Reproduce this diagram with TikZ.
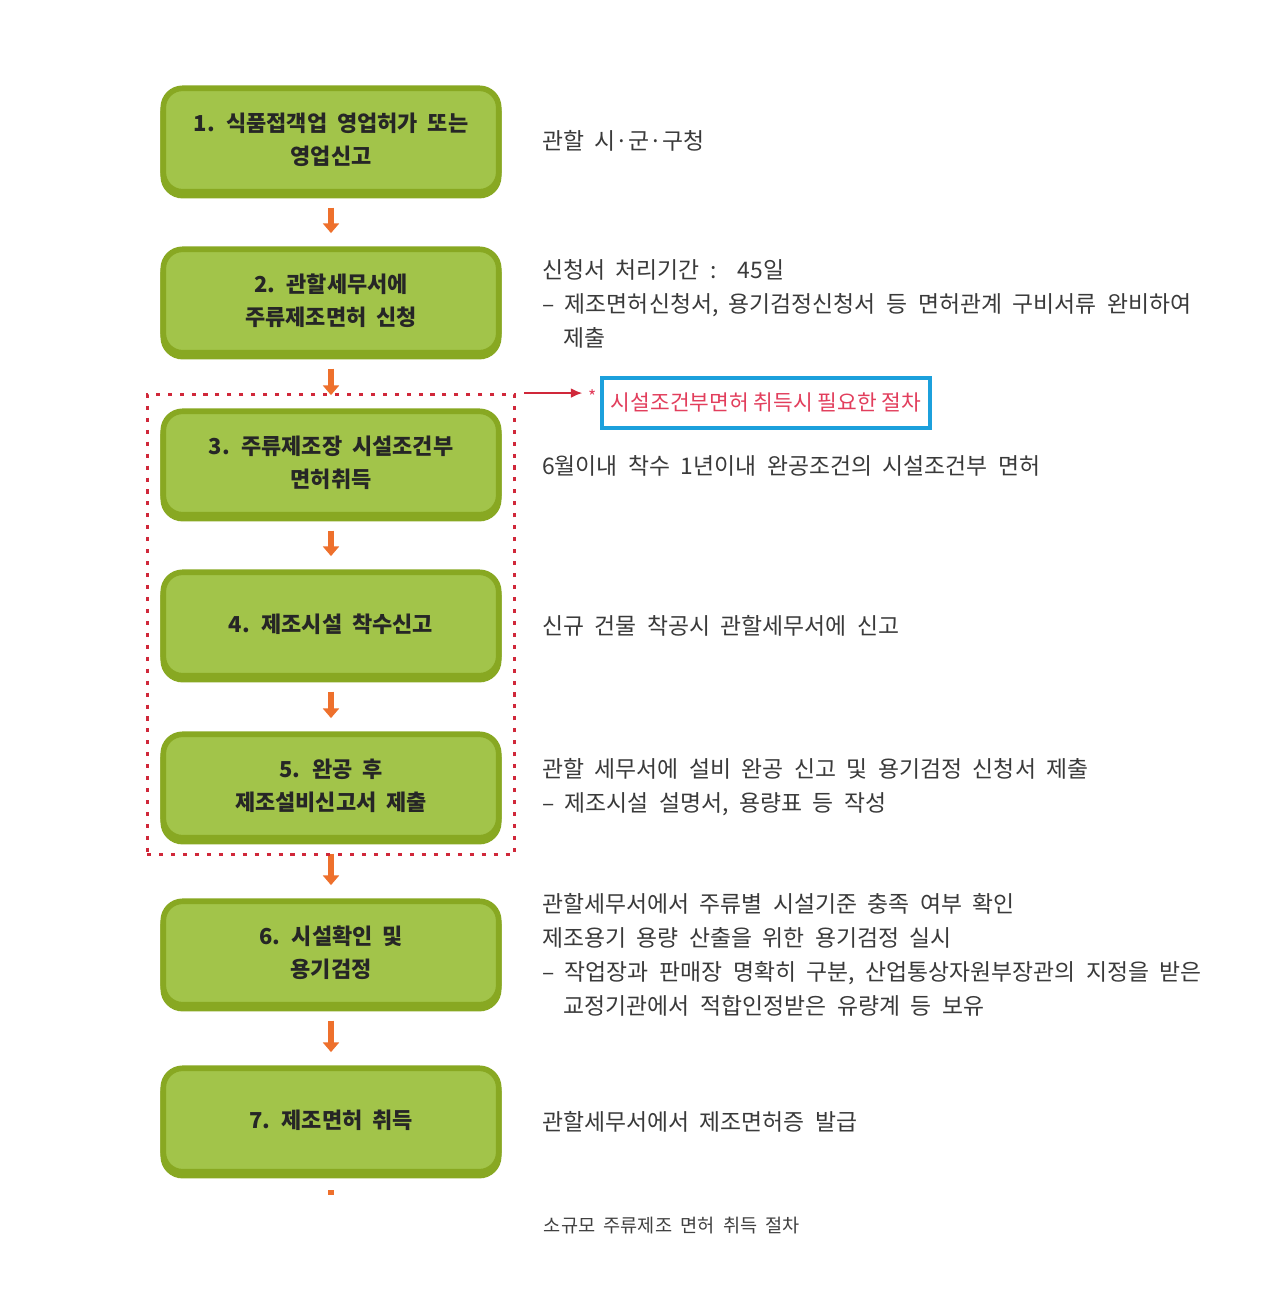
\documentclass[tikz,border=0pt]{standalone}
\usepackage{fontspec}
\setmainfont{Noto Sans CJK KR}
\usetikzlibrary{arrows.meta,fit}

\definecolor{boxfill}{RGB}{162,196,74}
\definecolor{boxedge}{RGB}{136,168,34}
\definecolor{flowor}{RGB}{238,112,44}
\definecolor{dotred}{RGB}{208,40,58}
\definecolor{noteblue}{RGB}{28,160,220}
\definecolor{notered}{RGB}{226,62,92}
\definecolor{txtgray}{RGB}{58,58,58}

\begin{document}
\begin{tikzpicture}[x=0.02cm,y=-0.02cm,
    flow/.style={draw=flowor,line width=3pt,-{Triangle[width=9pt,length=5.5pt]},
      shorten <=7.4pt,shorten >=7.6pt},
    redarrow/.style={draw=dotred,line width=1.1pt,-{Latex[width=5.5pt,length=6.5pt]},
      shorten <=4.5pt,shorten >=2.5pt}]

        \fill[white] (0,0) rectangle (1280,1303);
        \useasboundingbox (0,0) rectangle (1280,1303);

        \begin{scope}[every node/.style={rectangle,rounded corners=11pt,draw=boxedge,fill=boxfill,
            line width=3.2pt,minimum width=6.71cm,minimum height=2.07cm,align=center,
            preaction={draw=boxedge,line width=3.2pt,transform canvas={yshift=-2.2pt}},
            text=black!85,font={\bfseries\fontsize{12.5}{18.7}\selectfont\spaceskip=0.45em\relax}}]
          \node (1) at (331,140)  {1. 식품접객업 영업허가 또는\\영업신고};
          \node (2) at (331,301)  {2. 관할세무서에\\주류제조면허 신청};
          \node (3) at (331,463)  {3. 주류제조장 시설조건부\\면허취득};
          \node (4) at (331,624)  {4. 제조시설 착수신고};
          \node (5) at (331,786)  {5. 완공 후\\제조설비신고서 제출};
          \node (6) at (331,953)  {6. 시설확인 및\\용기검정};
          \node (7) at (331,1120) {7. 제조면허 취득};
        \end{scope}

        \coordinate (end) at (331,1195);

        \path (1) edge[flow] (2);
        \path (2) edge[flow] (3);
        \path (3) edge[flow] (4);
        \path (4) edge[flow] (5);
        \path (5) edge[flow] (6);
        \path (6) edge[flow] (7);
        \path (7) edge[flow,-,shorten <=9pt,shorten >=0pt] (end);

        \node[fit=(3)(5),draw=dotred,line width=1.7pt,dash pattern=on 2.3pt off 4.5pt,
          inner xsep=7.6pt,inner ysep=7.9pt] (grp) {};

        \begin{scope}[every node/.style={anchor=west,align=left,text=txtgray,
            font={\fontsize{13}{19.3}\selectfont\spaceskip=0.46em\relax}}]
          \node (t1) at (536,141)  {관할 시·군·구청};
          \node (t2) at (536,304)  {신청서 처리기간 :\ \ 45일\\– 제조면허신청서, 용기검정신청서 등 면허관계 구비서류 완비하여\\\hspace{0.95em}제출};
          \node (t3) at (536,466)  {6월이내 착수 1년이내 완공조건의 시설조건부 면허};
          \node (t4) at (536,626)  {신규 건물 착공시 관할세무서에 신고};
          \node (t5) at (536,787)  {관할 세무서에 설비 완공 신고 및 용기검정 신청서 제출\\– 제조시설 설명서, 용량표 등 작성};
          \node (t6) at (536,955)  {관할세무서에서 주류별 시설기준 충족 여부 확인\\제조용기 용량 산출을 위한 용기검정 실시\\– 작업장과 판매장 명확히 구분, 산업통상자원부장관의 지정을 받은\\\hspace{0.95em}교정기관에서 적합인정받은 유량계 등 보유};
          \node (t7) at (536,1122) {관할세무서에서 제조면허증 발급};
        \end{scope}

        \node[text=notered,font=\fontsize{10}{10}\selectfont,inner sep=1pt] (star) at (593,396) {*};
        \node[draw=noteblue,line width=2.3pt,minimum width=6.56cm,minimum height=1.0cm,
          text=notered,font=\fontsize{12.2}{14}\selectfont] (note) at (766,403) {시설조건부면허 취득시 필요한 절차};

        \draw[redarrow] (grp.north east) -- (grp.north east -| star.west);

        \node[text=black!75,font={\fontsize{10.6}{12}\selectfont\spaceskip=0.45em\relax}] (cap) at (672,1226) {소규모 주류제조 면허 취득 절차};

      \end{tikzpicture}
\end{document}
